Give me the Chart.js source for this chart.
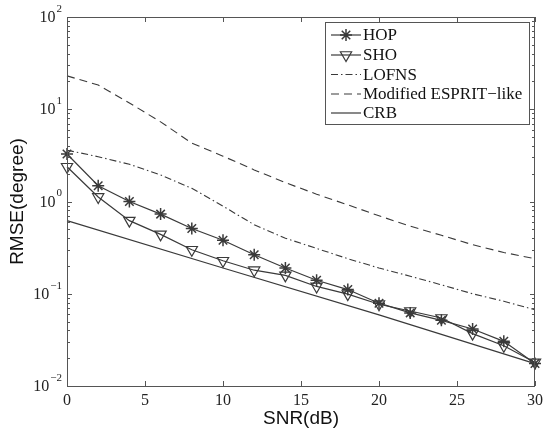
<!DOCTYPE html>
<html>
<head>
<meta charset="utf-8">
<script src="https://cdn.jsdelivr.net/npm/chart.js@4/dist/chart.umd.min.js"></script>
<style>
body{margin:0;background:#fff;}
#wrap{width:550px;height:436px;}
</style>
</head>
<body>
<div id="wrap"><canvas id="chart" width="550" height="436"></canvas></div>
<script>
// values (RMSE in degree vs SNR in dB)
const snr = [0,2,4,6,8,10,12,14,16,18,20,22,24,26,28,30];
const hop = [3.27,1.48,1.0,0.73,0.51,0.38,0.265,0.19,0.14,0.111,0.079,0.062,0.0515,0.0415,0.0305,0.0175];
const sho = [2.38,1.12,0.62,0.44,0.30,0.228,0.18,0.158,0.12,0.099,0.077,0.065,0.0546,0.037,0.0273,0.018];
const lofns = [3.6,3.06,2.53,1.94,1.39,0.89,0.56,0.40,0.31,0.24,0.19,0.155,0.125,0.10,0.083,0.067];
const esprit = [23,18.3,11.7,7.3,4.3,3.1,2.2,1.6,1.2,0.92,0.70,0.54,0.43,0.34,0.28,0.24];
const crbSnr = [0,10,20,30];
const crb = [0.62,0.19,0.059,0.0175];
const xTicks = [0,5,10,15,20,25,30];
const yExp = [-2,-1,0,1,2];
const names = ["HOP","SHO","LOFNS","Modified ESPRIT\u2212like","CRB"];

const INK = "#3a3a3a";
const AXIS = "#555555";
const DASHDOT = [7,3,1.5,3];
const DASH = [8,5];

function pts(xs, ys){ return xs.map((x,i)=>({x:x,y:ys[i]})); }

function star(ctx,x,y,r){
  ctx.beginPath();
  for(let k=0;k<4;k++){
    const a=k*Math.PI/4;
    ctx.moveTo(x-r*Math.cos(a),y-r*Math.sin(a));
    ctx.lineTo(x+r*Math.cos(a),y+r*Math.sin(a));
  }
  ctx.stroke();
}
function tri(ctx,x,y,r){
  ctx.beginPath();
  for(let k=0;k<3;k++){
    const a=Math.PI/2+k*2*Math.PI/3;
    const px=x+r*Math.cos(a), py=y+r*Math.sin(a);
    if(k===0) ctx.moveTo(px,py); else ctx.lineTo(px,py);
  }
  ctx.closePath();
  ctx.stroke();
}

const matlabAxes = {
  id:"matlabAxes",
  afterDraw(chart){
    const ctx=chart.ctx, a=chart.chartArea;
    const xs=chart.scales.x, ys=chart.scales.y;
    ctx.save();
    ctx.strokeStyle=AXIS; ctx.lineWidth=1; ctx.setLineDash([]);
    ctx.strokeRect(a.left+0.5,a.top+0.5,a.right-a.left-1,a.bottom-a.top);
    // x ticks, inward, top and bottom
    ctx.beginPath();
    xTicks.forEach(v=>{
      const px=Math.round(xs.getPixelForValue(v))+0.5;
      ctx.moveTo(px,a.bottom); ctx.lineTo(px,a.bottom-5);
      ctx.moveTo(px,a.top); ctx.lineTo(px,a.top+5);
    });
    // y ticks, major and minor, left and right
    yExp.forEach(e=>{
      const py=Math.round(ys.getPixelForValue(Math.pow(10,e)))+0.5;
      ctx.moveTo(a.left,py); ctx.lineTo(a.left+5,py);
      ctx.moveTo(a.right,py); ctx.lineTo(a.right-5,py);
      if(e<2){
        for(let m=2;m<=9;m++){
          const q=Math.round(ys.getPixelForValue(m*Math.pow(10,e)))+0.5;
          ctx.moveTo(a.left,q); ctx.lineTo(a.left+3,q);
          ctx.moveTo(a.right,q); ctx.lineTo(a.right-3,q);
        }
      }
    });
    ctx.stroke();

    // tick labels
    ctx.fillStyle="#222";
    ctx.font='16px "Liberation Serif"';
    ctx.textAlign="center"; ctx.textBaseline="middle";
    xTicks.forEach(v=>{
      ctx.fillText(String(v), xs.getPixelForValue(v), a.bottom+15);
    });
    yExp.forEach(e=>{
      const py=ys.getPixelForValue(Math.pow(10,e));
      const ex=e<0 ? "\u2212"+(-e) : String(e);
      ctx.font='11px "Liberation Serif"';
      const w=ctx.measureText(ex).width;
      ctx.textAlign="left";
      ctx.fillText(ex, a.left-5-w, py-8);
      ctx.font='16px "Liberation Serif"';
      ctx.textAlign="right";
      ctx.fillText("10", a.left-6-w, py+1);
    });

    // axis titles
    ctx.font='19px "Liberation Sans"';
    ctx.textAlign="center"; ctx.fillStyle="#111";
    ctx.fillText("SNR(dB)", (a.left+a.right)/2, 419);
    ctx.save();
    ctx.translate(18,(a.top+a.bottom)/2);
    ctx.rotate(-Math.PI/2);
    ctx.fillText("RMSE(degree)",0,0);
    ctx.restore();

    // legend
    const lx=325, ly=22, lw=204, lh=102;
    ctx.fillStyle="#fff";
    ctx.fillRect(lx,ly,lw,lh);
    ctx.strokeStyle=AXIS;
    ctx.strokeRect(lx+0.5,ly+0.5,lw,lh);
    const rows=[35,55,74.5,94,113];
    const dashes=[[],[],DASHDOT,DASH,[]];
    ctx.font='17px "Liberation Serif"';
    ctx.textAlign="left"; ctx.textBaseline="middle";
    rows.forEach((ry,i)=>{
      ctx.strokeStyle=INK; ctx.lineWidth=1.2;
      ctx.setLineDash(dashes[i]);
      ctx.beginPath(); ctx.moveTo(331,ry); ctx.lineTo(361,ry); ctx.stroke();
      ctx.setLineDash([]);
      if(i===0){ ctx.lineWidth=1.5; star(ctx,346,ry,6); }
      if(i===1) tri(ctx,346,ry,6.5);
      ctx.fillStyle="#111";
      ctx.fillText(names[i],363,ry+1);
    });
    ctx.restore();
  }
};

new Chart(document.getElementById("chart"), {
  type:"line",
  data:{
    datasets:[
      {label:names[0], data:pts(snr,hop), borderColor:INK, borderWidth:1.2,
       pointStyle:"star", pointRadius:6, pointBorderColor:INK, pointBorderWidth:1.5,
       pointBackgroundColor:INK, clip:false},
      {label:names[1], data:pts(snr,sho), borderColor:INK, borderWidth:1.2,
       pointStyle:"triangle", pointRotation:180, pointRadius:6.5, pointBorderColor:INK,
       pointBorderWidth:1.2, pointBackgroundColor:"rgba(0,0,0,0)", clip:false},
      {label:names[2], data:pts(snr,lofns), borderColor:INK, borderWidth:1.1,
       borderDash:DASHDOT, pointRadius:0, clip:false},
      {label:names[3], data:pts(snr,esprit), borderColor:INK, borderWidth:1.1,
       borderDash:DASH, pointRadius:0, clip:false},
      {label:names[4], data:pts(crbSnr,crb), borderColor:INK, borderWidth:1.2,
       pointRadius:0, clip:false}
    ]
  },
  options:{
    responsive:false,
    animation:false,
    devicePixelRatio:1,
    tension:0,
    layout:{padding:{left:67,top:17,right:15,bottom:50}},
    plugins:{legend:{display:false},tooltip:{enabled:false}},
    scales:{
      x:{type:"linear",min:0,max:30,display:false},
      y:{type:"logarithmic",min:0.01,max:100,display:false}
    }
  },
  plugins:[matlabAxes]
});
</script>
</body>
</html>
